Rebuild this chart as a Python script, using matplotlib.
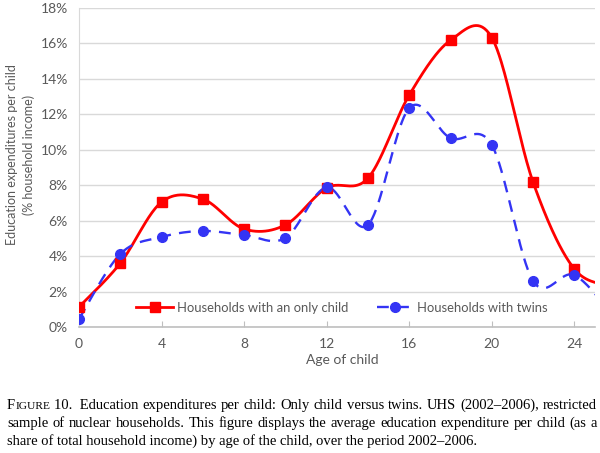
import numpy as np
import matplotlib
matplotlib.use("Agg")
import matplotlib.pyplot as plt
from matplotlib.lines import Line2D

# data (ages 0-24, plus one point past the right edge)
ages = [0, 2, 4, 6, 8, 10, 12, 14, 16, 18, 20, 22, 24, 26]
only_child = [1.13, 3.6, 7.05, 7.22, 5.53, 5.76, 7.85, 8.4, 13.09, 16.18, 16.33, 8.17, 3.27, 2.3]
twins = [0.45, 4.12, 5.08, 5.42, 5.19, 5.02, 7.88, 5.76, 12.36, 10.66, 10.27, 2.6, 2.93, 0.43]
yticks = [0, 2, 4, 6, 8, 10, 12, 14, 16, 18]
xticks = [0, 4, 8, 12, 16, 20, 24]

caption_line1 = "10.\u2002Education expenditures per child: Only child versus twins. UHS (2002\u20132006), restricted"
caption_line2 = "sample of nuclear households. This figure displays the average education expenditure per child (as a"
caption_line3 = "share of total household income) by age of the child, over the period 2002\u20132006."


def smooth(x, y, n=40):
    # Excel-style smoothed line (Catmull-Rom through every point)
    x = np.asarray(x, float)
    y = np.asarray(y, float)
    px = np.concatenate([[x[0]], x, [x[-1]]])
    py = np.concatenate([[y[0]], y, [y[-1]]])
    xs, ys = [], []
    t = np.linspace(0, 1, n)
    for i in range(1, len(px) - 2):
        x0, x1, x2, x3 = px[i - 1:i + 3]
        y0, y1, y2, y3 = py[i - 1:i + 3]
        cx1, cy1 = x1 + (x2 - x0) / 6, y1 + (y2 - y0) / 6
        cx2, cy2 = x2 - (x3 - x1) / 6, y2 - (y3 - y1) / 6
        b = [(1 - t) ** 3, 3 * (1 - t) ** 2 * t, 3 * (1 - t) * t ** 2, t ** 3]
        xs.append(b[0] * x1 + b[1] * cx1 + b[2] * cx2 + b[3] * x2)
        ys.append(b[0] * y1 + b[1] * cy1 + b[2] * cy2 + b[3] * y2)
    return np.concatenate(xs), np.concatenate(ys)


red = "#FF0000"
blue = "#3434F4"
grey = "#595959"

plt.rcParams["font.family"] = ["Lato", "DejaVu Sans"]

fig = plt.figure(figsize=(6, 4.53), dpi=100)
ax = fig.add_axes([79 / 600, 1 - 327 / 453, (595 - 79) / 600, (327 - 8) / 453])

sx, sy = smooth(ages, only_child)
ax.plot(sx, sy, color=red, lw=2.0, zorder=3)
ax.plot(ages, only_child, ls="none", marker="s", ms=7, color=red, zorder=4)

tx, ty = smooth(ages, twins)
ax.plot(tx, ty, color=blue, lw=1.7, dashes=(5, 3.5), zorder=3)
ax.plot(ages, twins, ls="none", marker="o", ms=7, color=blue, zorder=4)

ax.set_xlim(0, 25)
ax.set_ylim(0, 18)
ax.set_yticks(yticks)
ax.set_yticklabels([f"{v}%" for v in yticks])
ax.set_xticks(xticks)
ax.grid(axis="y", color="#D9D9D9", lw=1)
ax.set_axisbelow(True)
for s in ["top", "right"]:
    ax.spines[s].set_visible(False)
ax.spines["left"].set_color("#D9D9D9")
ax.spines["bottom"].set_color("#BFBFBF")
ax.spines["bottom"].set_linewidth(1.2)
ax.tick_params(axis="y", length=0, pad=8, labelsize=10, labelcolor=grey)
ax.tick_params(axis="x", direction="in", length=4, color="#BFBFBF", pad=8,
               labelsize=10, labelcolor=grey)

ax.set_xlabel("Age of child", fontsize=10, color=grey)
ax.xaxis.set_label_coords(0.51, -0.085)
ax.set_ylabel("Education expenditures per child\n(% household income)",
              fontsize=9, color=grey, linespacing=1.45)
ax.yaxis.set_label_coords(-0.085, 0.54)

handles = [
    Line2D([], [], color=red, lw=2.0, marker="s", ms=7),
    Line2D([], [], color=blue, lw=1.7, dashes=(5, 3.5), marker="o", ms=7),
]
ax.legend(handles, ["Households with an only child", "Households with twins"],
          loc="center", bbox_to_anchor=(0.51, 1.08 / 18), ncol=2, frameon=False,
          fontsize=9.4, labelcolor=grey, handlelength=2.8, handletextpad=0.3,
          columnspacing=2.2)

# caption: serif, justified, with small-caps "FIGURE"
cap_font = ["Liberation Serif", "DejaVu Serif"]
cap_size = 10.5
renderer = fig.canvas.get_renderer()
left_px, right_px = 7, 597


def place_line(words, y_px):
    # words: list of lists of (text, fontsize) pieces, spread to full width
    arts = []
    widths = []
    for word in words:
        pieces = []
        w = 0
        for txt, size in word:
            t = fig.text(0, 1 - y_px / 453, txt, fontsize=size, family=cap_font,
                         color="black", va="baseline", ha="left")
            pieces.append(t)
            w += t.get_window_extent(renderer).width
        arts.append(pieces)
        widths.append(w)
    gap = (right_px - left_px - sum(widths)) / (len(words) - 1)
    x = left_px
    for pieces in arts:
        for t in pieces:
            t.set_x(x / 600)
            x += t.get_window_extent(renderer).width
        x += gap


line1 = [[("F", cap_size), ("IGURE", cap_size * 0.78)]] + \
    [[(w, cap_size)] for w in caption_line1.split(" ")]
place_line(line1, 409)
place_line([[(w, cap_size)] for w in caption_line2.split(" ")], 427)
fig.text(left_px / 600, 1 - 445 / 453, caption_line3, fontsize=cap_size,
         family=cap_font, color="black", va="baseline", ha="left")

fig.savefig("out.png", dpi=100)
